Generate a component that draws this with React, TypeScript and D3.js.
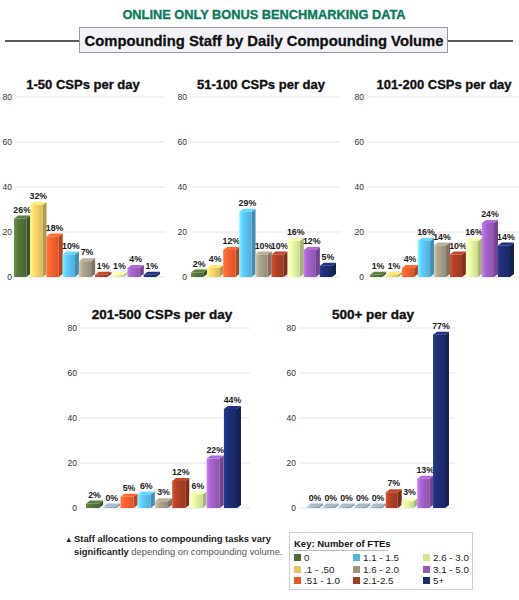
import * as d3 from 'd3';

// FTE categories (legend key) and their bar colours
const CATEGORIES = ['0', '.1 - .50', '.51 - 1.0', '1.1 - 1.5', '1.6 - 2.0', '2.1-2.5', '2.6 - 3.0', '3.1 - 5.0', '5+'];
const COLORS = ['#4d6b35', '#e6c461', '#e8582a', '#55b5e2', '#9d947f', '#a13b22', '#d3e796', '#9559b6', '#1b2a6b'];
const ZERO_COLOR = '#8a9cad';

// percent of respondents per FTE category, by daily volume
const PANEL_TITLES = ['1-50 CSPs per day', '51-100 CSPs per day', '101-200 CSPs per day', '201-500 CSPs per day', '500+ per day'];
const VALUES_1_50 = [26, 32, 18, 10, 7, 1, 1, 4, 1];
const VALUES_51_100 = [2, 4, 12, 29, 10, 10, 16, 12, 5];
const VALUES_101_200 = [1, 1, 4, 16, 14, 10, 16, 24, 14];
const VALUES_201_500 = [2, 0, 5, 6, 3, 12, 6, 22, 44];
const VALUES_500_PLUS = [0, 0, 0, 0, 0, 7, 3, 13, 77];
const Y_TICKS = [0, 20, 40, 60, 80];

const FONT = '"Liberation Sans", Arial, Helvetica, sans-serif';

interface Panel {
  title: string;
  values: number[];
  titleX: number;
  titleY: number;
  titleSize: number;
  labelX: number;
  gridX0: number;
  gridX1: number;
  barX0: number;
  barX1: number;
  baseY: number;
  topY: number;
}

const PANELS: Panel[] = [
  { title: PANEL_TITLES[0], values: VALUES_1_50, titleX: 83, titleY: 89, titleSize: 13, labelX: 12, gridX0: 15, gridX1: 165, barX0: 14, barX1: 156, baseY: 277, topY: 97 },
  { title: PANEL_TITLES[1], values: VALUES_51_100, titleX: 261, titleY: 89, titleSize: 13, labelX: 187, gridX0: 190, gridX1: 340, barX0: 191, barX1: 332, baseY: 277, topY: 97 },
  { title: PANEL_TITLES[2], values: VALUES_101_200, titleX: 444, titleY: 89, titleSize: 13, labelX: 364, gridX0: 367, gridX1: 519, barX0: 370, barX1: 510, baseY: 277, topY: 97 },
  { title: PANEL_TITLES[3], values: VALUES_201_500, titleX: 162, titleY: 319, titleSize: 13.5, labelX: 77, gridX0: 80, gridX1: 250, barX0: 86, barX1: 237, baseY: 508, topY: 328 },
  { title: PANEL_TITLES[4], values: VALUES_500_PLUS, titleX: 373, titleY: 319, titleSize: 13.5, labelX: 296, gridX0: 300, gridX1: 455, barX0: 307, barX1: 445, baseY: 508, topY: 328 },
];

const DX = 4;
const DY = 3;

function colorFor(i: number, v: number) {
  return v === 0 ? ZERO_COLOR : COLORS[i];
}

function Bar3D({ x, w, y, base, color, gid }: { x: number; w: number; y: number; base: number; color: string; gid: string }) {
  const c = d3.color(color)!;
  const side = c.darker(0.7).formatHex();
  const top = c.brighter(0.5).formatHex();
  return (
    <g>
      <polygon points={`${x + w},${y} ${x + w + DX},${y - DY} ${x + w + DX},${base - DY} ${x + w},${base}`} fill={side} />
      <polygon points={`${x},${y} ${x + DX},${y - DY} ${x + w + DX},${y - DY} ${x + w},${y}`} fill={top} />
      <rect x={x} y={y} width={w} height={base - y} fill={`url(#${gid})`} />
    </g>
  );
}

function ChartPanel({ p }: { p: Panel }) {
  const y = d3.scaleLinear().domain([0, 80]).range([p.baseY, p.topY]);
  const x = d3.scaleBand<string>().domain(CATEGORIES).range([p.barX0, p.barX1]).paddingInner(0.24).paddingOuter(0);
  const bw = x.bandwidth();
  return (
    <g>
      <text x={p.titleX} y={p.titleY} textAnchor="middle" fontSize={p.titleSize} fontWeight={700} fill="#111" stroke="#111" strokeWidth={0.35}>{p.title}</text>
      {Y_TICKS.map(t => (
        <g key={t}>
          <line x1={p.gridX0} x2={p.gridX1} y1={y(t)} y2={y(t)} stroke="#e4e4e4" strokeWidth={1} />
          <text x={p.labelX} y={y(t) + 3} textAnchor="end" fontSize={8.5} fill="#333">{t}</text>
        </g>
      ))}
      {p.values.map((v, i) => {
        const bx = x(CATEGORIES[i]) ?? 0;
        const top = Math.min(y(v), p.baseY - 1.5);
        return (
          <g key={i}>
            <Bar3D x={bx} w={bw} y={top} base={p.baseY} color={colorFor(i, v)} gid={`g${v === 0 ? 'z' : i}`} />
            <text x={bx + (bw + DX) / 2} y={top - DY - 3} textAnchor="middle" fontSize={8.8} fontWeight={700} fill="#222">{`${v}%`}</text>
          </g>
        );
      })}
    </g>
  );
}

const LEGEND_COLS = [294, 353, 423];
const LEGEND_ROWS = [561, 573, 584];

export default function App() {
  const gradColors = [...COLORS.map((c, i) => ({ id: `g${i}`, c })), { id: 'gz', c: ZERO_COLOR }];
  return (
    <svg width={519} height={600} style={{ position: 'absolute', left: 0, top: 0, background: '#fff' }} fontFamily={FONT}>
      <defs>
        {gradColors.map(g => {
          const c = d3.color(g.c)!;
          return (
            <linearGradient key={g.id} id={g.id} x1="0" x2="1" y1="0" y2="0">
              <stop offset="0%" stopColor={c.brighter(0.9).formatHex()} />
              <stop offset="30%" stopColor={c.brighter(0.35).formatHex()} />
              <stop offset="100%" stopColor={c.darker(0.15).formatHex()} />
            </linearGradient>
          );
        })}
      </defs>
      <rect width={519} height={600} fill="#fff" />

      {/* header */}
      <text x={264} y={18.5} textAnchor="middle" fontSize={12.8} fontWeight={700} fill="#0b7a5c" stroke="#0b7a5c" strokeWidth={0.35}>ONLINE ONLY BONUS BENCHMARKING DATA</text>
      <line x1={5} x2={79} y1={41} y2={41} stroke="#222" strokeWidth={1.5} />
      <line x1={448} x2={513} y1={41} y2={41} stroke="#222" strokeWidth={1.5} />
      <rect x={79.5} y={27.5} width={368} height={25} fill="#f3f3f7" stroke="#9a9a9a" />
      <text x={264} y={45.5} textAnchor="middle" fontSize={14.8} fontWeight={700} fill="#111" stroke="#111" strokeWidth={0.3}>Compounding Staff by Daily Compounding Volume</text>

      {PANELS.map((p, i) => <ChartPanel key={i} p={p} />)}

      {/* footnote */}
      <text x={65} y={542} fontSize={7.5} fill="#222">▲</text>
      <text x={74} y={542} fontSize={9.4} fontWeight={700} fill="#222">Staff allocations to compounding tasks vary</text>
      <text x={74} y={555} fontSize={9.4} fill="#555">
        <tspan fontWeight={700} fill="#222">significantly</tspan> depending on compounding volume.
      </text>

      {/* legend */}
      <rect x={289.5} y={532.5} width={183} height={57} fill="#fff" stroke="#cfcfcf" />
      <text x={294} y={547} fontSize={9.5} fontWeight={700} fill="#111">Key: Number of FTEs</text>
      <line x1={294} x2={388} y1={550.5} y2={550.5} stroke="#bbb" strokeWidth={1} />
      {CATEGORIES.map((c, i) => {
        const col = Math.floor(i / 3);
        const row = i % 3;
        const lx = LEGEND_COLS[col];
        const ly = LEGEND_ROWS[row];
        return (
          <g key={c}>
            <rect x={lx} y={ly - 7} width={7} height={7} fill={COLORS[i]} />
            <text x={lx + 10} y={ly} fontSize={9.8} fill="#222">{c}</text>
          </g>
        );
      })}
    </svg>
  );
}
